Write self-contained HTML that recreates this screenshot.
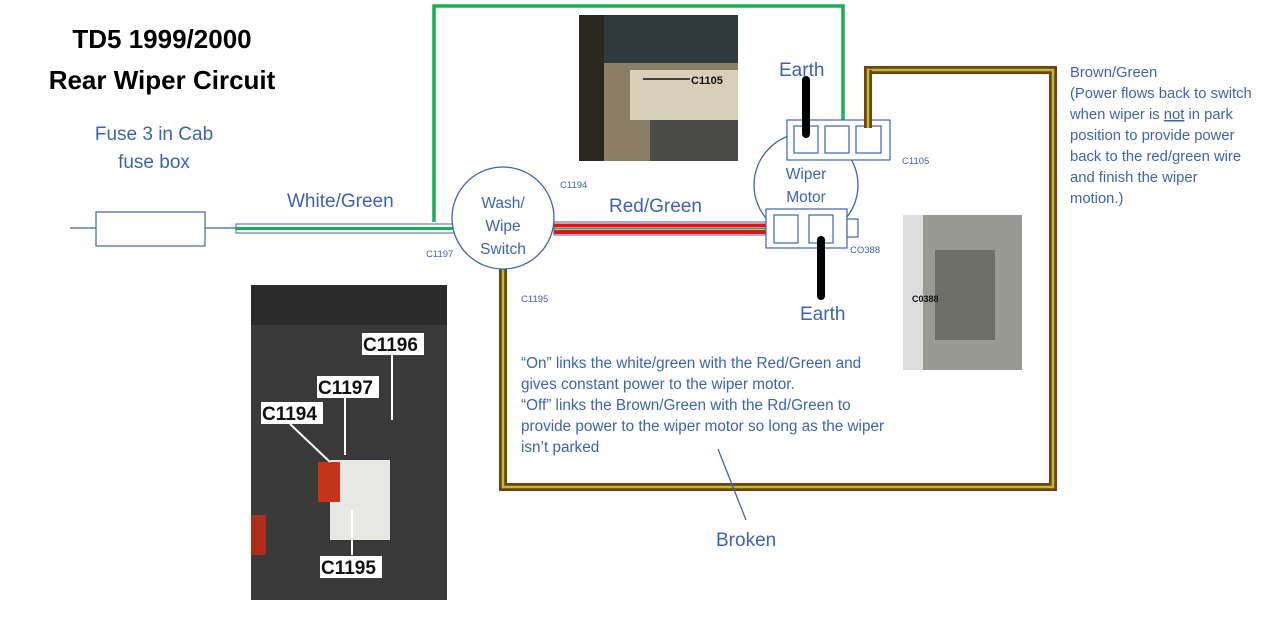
<!DOCTYPE html>
<html><head><style>
body{margin:0;width:1287px;height:631px;background:#fff;overflow:hidden;font-family:"Liberation Sans",sans-serif}
</style></head><body>
<svg width="1287" height="631" xmlns="http://www.w3.org/2000/svg" font-family="Liberation Sans, sans-serif">
<polyline points="434,222 434,6 843,6 843,122" fill="none" stroke="#1aae50" stroke-width="3.5"/>
<rect x="566" y="8" width="172" height="150" fill="#fff"/>
<rect x="579" y="15" width="159" height="146" fill="#8a7e66"/>
<rect x="579" y="15" width="25" height="146" fill="#2a2620"/>
<rect x="604" y="15" width="134" height="48" fill="#2f3a3e"/>
<rect x="630" y="70" width="108" height="50" fill="#d8cfb8"/>
<rect x="650" y="120" width="88" height="41" fill="#4a4a46"/>
<line x1="643" y1="79" x2="690" y2="79" stroke="#111" stroke-width="1.5"/>
<text x="691" y="84" font-size="11" font-weight="bold" fill="#111">C1105</text>
<rect x="903" y="215" width="119" height="155" fill="#9a9a95"/>
<rect x="903" y="215" width="20" height="155" fill="#ddd"/>
<rect x="935" y="250" width="60" height="90" fill="#6f6f6a"/>
<text x="912" y="302" font-size="9" font-weight="bold" fill="#111">C0388</text>
<rect x="251" y="285" width="196" height="315" fill="#3a3a3a"/>
<rect x="251" y="285" width="196" height="40" fill="#2a2a2a"/>
<rect x="330" y="460" width="60" height="80" fill="#e8e8e4"/>
<rect x="318" y="462" width="22" height="40" fill="#c8331e"/>
<rect x="251" y="515" width="15" height="40" fill="#b02c1a"/>
<g font-size="19" font-weight="bold" fill="#111">
<rect x="362" y="333" width="62" height="22" fill="#fff"/><text x="363" y="351">C1196</text>
<rect x="317" y="376" width="62" height="22" fill="#fff"/><text x="318" y="394">C1197</text>
<rect x="261" y="402" width="62" height="22" fill="#fff"/><text x="262" y="420">C1194</text>
<rect x="320" y="556" width="62" height="22" fill="#fff"/><text x="321" y="574">C1195</text>
</g>
<g stroke="#fff" stroke-width="2"><line x1="392" y1="355" x2="392" y2="420"/><line x1="345" y1="398" x2="345" y2="455"/><line x1="290" y1="424" x2="330" y2="462"/><line x1="352" y1="510" x2="352" y2="555"/></g>
<line x1="70" y1="228" x2="236" y2="228" stroke="#3d63b0" stroke-width="1.2"/>
<rect x="96" y="212" width="109" height="34" fill="#fff" stroke="#3d63b0" stroke-width="1.2"/>
<rect x="236" y="224" width="220" height="9" fill="#fff" stroke="#3d63b0" stroke-width="1"/>
<line x1="236" y1="228.5" x2="456" y2="228.5" stroke="#1aae50" stroke-width="3"/>
<polyline points="503,268 503,487 1053,487 1053,70 868,70 868,128" fill="none" stroke="#7a3e0c" stroke-width="8"/>
<polyline points="503,268 503,487 1053,487 1053,70 868,70 868,128" fill="none" stroke="#a6c43c" stroke-width="2.5"/>
<rect x="554" y="222" width="219" height="13" fill="#fff" stroke="#3d63b0" stroke-width="1"/>
<line x1="554" y1="225.5" x2="773" y2="225.5" stroke="#e0141c" stroke-width="4"/>
<line x1="554" y1="228.8" x2="773" y2="228.8" stroke="#1aae50" stroke-width="1.5"/>
<line x1="554" y1="232" x2="773" y2="232" stroke="#e0141c" stroke-width="4"/>
<circle cx="503" cy="218" r="51" fill="#fff" stroke="#3d63b0" stroke-width="1.3"/>
<g fill="#3d63b0" font-size="15.5" text-anchor="middle"><text x="503" y="208">Wash/</text><text x="503" y="231">Wipe</text><text x="503" y="254">Switch</text></g>
<circle cx="806" cy="185" r="52" fill="#fff" stroke="#3d63b0" stroke-width="1.3"/>
<g fill="#3d63b0" font-size="15.5" text-anchor="middle"><text x="806" y="179">Wiper</text><text x="806" y="202">Motor</text></g>
<rect x="787" y="120" width="103" height="40" fill="#fff" stroke="#3d63b0" stroke-width="1.2"/>
<rect x="794" y="126" width="24" height="27" fill="#fff" stroke="#3d63b0" stroke-width="1.2"/>
<rect x="825" y="126" width="24" height="27" fill="#fff" stroke="#3d63b0" stroke-width="1.2"/>
<rect x="856" y="126" width="25" height="27" fill="#fff" stroke="#3d63b0" stroke-width="1.2"/>
<line x1="868" y1="70" x2="868" y2="128" stroke="#7a3e0c" stroke-width="8"/>
<line x1="868" y1="70" x2="868" y2="128" stroke="#a6c43c" stroke-width="2.5"/>
<rect x="766" y="209" width="81" height="39" fill="#fff" stroke="#3d63b0" stroke-width="1.2"/>
<rect x="847" y="219" width="11" height="18" fill="#fff" stroke="#3d63b0" stroke-width="1.2"/>
<rect x="774" y="215" width="24" height="28" fill="#fff" stroke="#3d63b0" stroke-width="1.2"/>
<rect x="809" y="215" width="24" height="28" fill="#fff" stroke="#3d63b0" stroke-width="1.2"/>
<line x1="806" y1="80" x2="806" y2="134" stroke="#000" stroke-width="8" stroke-linecap="round"/>
<line x1="821" y1="240" x2="821" y2="296" stroke="#000" stroke-width="8" stroke-linecap="round"/>
<line x1="718" y1="449" x2="746" y2="520" stroke="#3d63b0" stroke-width="1.3"/>
<g font-weight="bold" font-size="26" fill="#000" text-anchor="middle"><text x="162" y="48">TD5 1999/2000</text><text x="162" y="89">Rear Wiper Circuit</text></g>
<g fill="#3d63b0" font-size="19">
<text x="154" y="140" text-anchor="middle">Fuse 3 in Cab</text>
<text x="154" y="168" text-anchor="middle">fuse box</text>
<text x="287" y="207">White/Green</text>
<text x="609" y="212">Red/Green</text>
<text x="779" y="76">Earth</text>
<text x="800" y="320">Earth</text>
<text x="716" y="546">Broken</text>
</g>
<g fill="#3d63b0" font-size="9.5">
<text x="560" y="188">C1194</text><text x="426" y="257">C1197</text><text x="521" y="302">C1195</text>
<text x="902" y="164">C1105</text><text x="850" y="253">CO388</text>
</g>
<g fill="#3d63b0" font-size="15.3">
<text x="521" y="368">“On” links the white/green with the Red/Green and</text>
<text x="521" y="389">gives constant power to the wiper motor.</text>
<text x="521" y="410">“Off” links the Brown/Green with the Rd/Green to</text>
<text x="521" y="431">provide power to the wiper motor so long as the wiper</text>
<text x="521" y="452">isn’t parked</text>
</g>
<g fill="#3d63b0" font-size="14.8">
<text x="1070" y="77">Brown/Green</text>
<text x="1070" y="98">(Power flows back to switch</text>
<text x="1070" y="119">when wiper is <tspan text-decoration="underline">not</tspan> in park</text>
<text x="1070" y="140">position to provide power</text>
<text x="1070" y="161">back to the red/green wire</text>
<text x="1070" y="182">and finish the wiper</text>
<text x="1070" y="203">motion.)</text>
</g>
</svg>
</body></html>
